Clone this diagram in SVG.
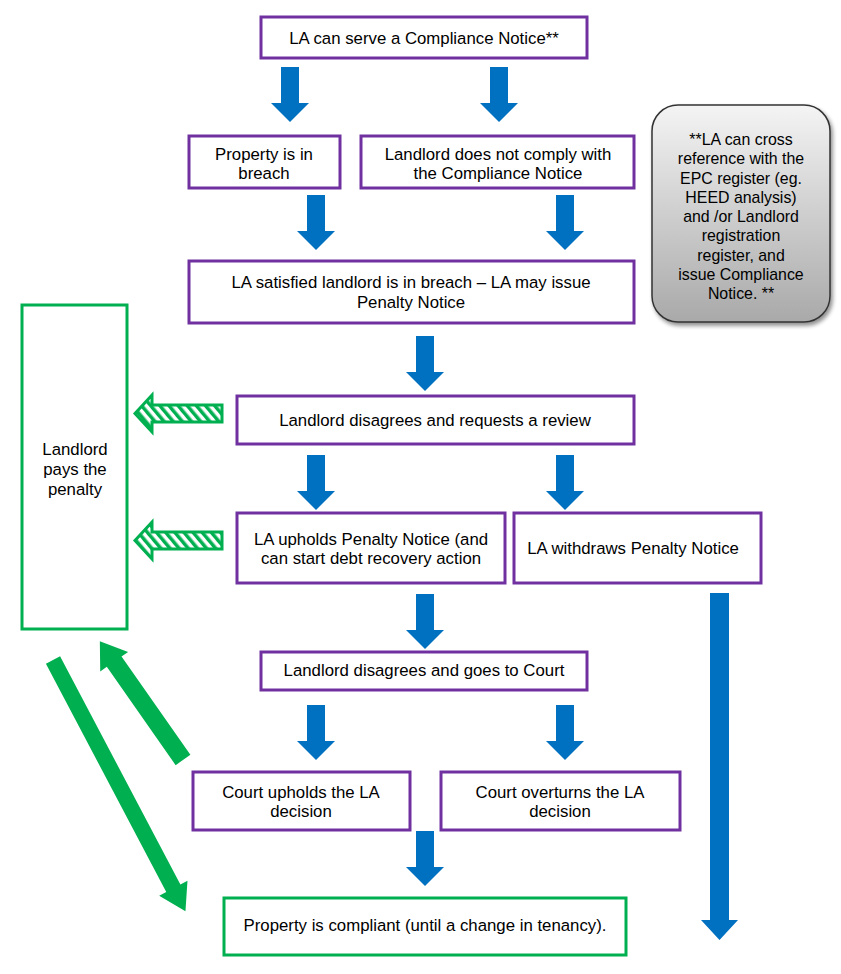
<svg xmlns="http://www.w3.org/2000/svg" width="841" height="974" viewBox="0 0 841 974">
<style>
.box{fill:#fff;stroke:#7030A0;stroke-width:3}
.gbox{fill:#fff;stroke:#00B050;stroke-width:3}
text{font-family:"Liberation Sans",Arial,sans-serif;font-size:16.8px;fill:#000;text-anchor:middle}
.note{font-size:15.9px}
.blue{fill:#0070C0}
.green{fill:#00B050}
.hatch{fill:url(#stripes);stroke:#00B050;stroke-width:3;stroke-linejoin:miter}
</style>
<defs>
<pattern id="stripes" width="7" height="7" patternUnits="userSpaceOnUse" patternTransform="rotate(-40)">
<rect width="7" height="7" fill="#fff"/>
<rect width="3.5" height="7" fill="#00B050"/>
</pattern>
<linearGradient id="gray" x1="0" y1="0" x2="0" y2="1">
<stop offset="0" stop-color="#f4f4f4"/>
<stop offset="1" stop-color="#a9a9a9"/>
</linearGradient>
<filter id="shadow" x="-10%" y="-10%" width="130%" height="130%">
<feGaussianBlur in="SourceAlpha" stdDeviation="2"/>
<feOffset dx="2" dy="3" result="b"/>
<feComponentTransfer><feFuncA type="linear" slope="0.45"/></feComponentTransfer>
<feMerge><feMergeNode/><feMergeNode in="SourceGraphic"/></feMerge>
</filter>
<path id="down" d="M-9,0 H9 V36 H19 L0,55 L-19,36 H-9 Z"/>
</defs>

<g id="connectors">
<use href="#down" class="blue" x="290" y="67"/>
<use href="#down" class="blue" x="499" y="67"/>
<use href="#down" class="blue" x="316" y="195"/>
<use href="#down" class="blue" x="565" y="195"/>
<use href="#down" class="blue" x="425" y="336"/>
<use href="#down" class="blue" x="316" y="455"/>
<use href="#down" class="blue" x="565" y="455"/>
<use href="#down" class="blue" x="425" y="594"/>
<use href="#down" class="blue" x="316" y="705"/>
<use href="#down" class="blue" x="565" y="705"/>
<use href="#down" class="blue" x="425" y="831"/>
<path class="blue" d="M710,593 H729 V920 H738 L719.5,940 L701,920 H710 Z"/>
<path class="hatch" d="M222,405 V422 H152 V432 L135,413.5 L152,395 V405 Z"/>
<path class="hatch" d="M222,532 V549 H152 V559 L135,540.5 L152,522 V532 Z"/>
<g transform="translate(53,660) rotate(62.2)">
<path class="green" d="M0,-8 H258 V-16 L284,0 L258,16 V8 H0 Z"/>
</g>
<g transform="translate(183,760) rotate(-125)">
<path class="green" d="M0,-9 H120 V-17 L145,0 L120,17 V9 H0 Z"/>
</g>
</g>

<g id="n1"><rect class="box" x="261" y="17" width="326" height="41"/><text x="424" y="44">LA can serve a Compliance Notice**</text></g>
<g id="n2"><rect class="box" x="189" y="136" width="151" height="52"/><text x="264" y="160">Property is in</text><text x="264" y="179">breach</text></g>
<g id="n3"><rect class="box" x="361" y="136" width="273" height="52"/><text x="498" y="160">Landlord does not comply with</text><text x="498" y="179">the Compliance Notice</text></g>
<g id="n4"><rect class="box" x="189" y="261" width="445" height="62"/><text x="411" y="288">LA satisfied landlord is in breach – LA may issue</text><text x="411" y="308">Penalty Notice</text></g>
<g id="n5"><rect class="box" x="237" y="396" width="397" height="48"/><text x="435" y="426">Landlord disagrees and requests a review</text></g>
<g id="n6"><rect class="box" x="237" y="513" width="268" height="70"/><text x="371" y="545">LA upholds Penalty Notice (and</text><text x="371" y="564">can start debt recovery action</text></g>
<g id="n7"><rect class="box" x="514" y="513" width="247" height="70"/><text x="633" y="554">LA withdraws Penalty Notice</text></g>
<g id="n8"><rect class="box" x="261" y="652" width="326" height="38"/><text x="424" y="676">Landlord disagrees and goes to Court</text></g>
<g id="n9"><rect class="box" x="193" y="772" width="217" height="58"/><text x="301" y="798">Court upholds the LA</text><text x="301" y="817">decision</text></g>
<g id="n10"><rect class="box" x="441" y="772" width="239" height="58"/><text x="560" y="798">Court overturns the LA</text><text x="560" y="817">decision</text></g>
<g id="n11"><rect class="gbox" x="224" y="898" width="402" height="57"/><text x="425" y="931">Property is compliant (until a change in tenancy).</text></g>
<g id="n12"><rect class="gbox" x="22" y="305" width="105" height="324"/><text x="75" y="455">Landlord</text><text x="75" y="475">pays the</text><text x="75" y="495">penalty</text></g>
<g id="note"><rect x="652" y="105" width="178" height="217" rx="26" ry="26" fill="url(#gray)" stroke="#333" stroke-width="1.5" filter="url(#shadow)"/>
<text class="note" x="741" y="145">**LA can cross</text>
<text class="note" x="741" y="164">reference with the</text>
<text class="note" x="741" y="184">EPC register (eg.</text>
<text class="note" x="741" y="203">HEED analysis)</text>
<text class="note" x="741" y="222">and /or Landlord</text>
<text class="note" x="741" y="241">registration</text>
<text class="note" x="741" y="261">register, and</text>
<text class="note" x="741" y="280">issue Compliance</text>
<text class="note" x="741" y="299">Notice. **</text>
</g>
</svg>
